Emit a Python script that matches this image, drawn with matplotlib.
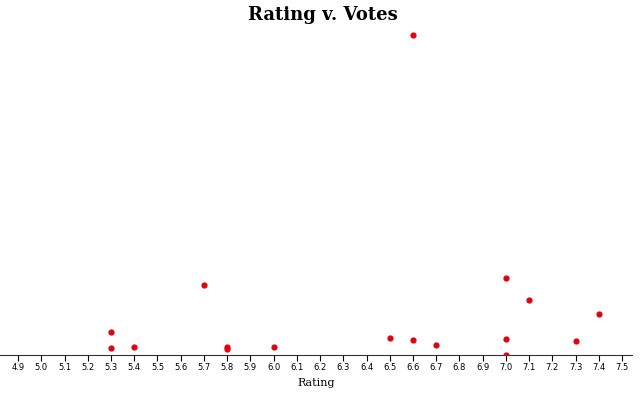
import matplotlib
matplotlib.use("Agg")
import matplotlib.pyplot as plt

ratings = [5.3, 5.3, 5.4, 5.7, 5.8, 5.8, 6.0, 6.5, 6.6, 6.6, 6.7, 7.0, 7.0, 7.0, 7.1, 7.3, 7.4]
votes = [230, 70, 80, 700, 80, 60, 80, 170, 3200, 150, 100, 770, 160, 5, 550, 140, 410]
ticks = [round(4.9 + 0.1 * i, 1) for i in range(27)]

fig = plt.figure(figsize=(6.4, 4.0), dpi=100)
ax = fig.add_axes([0.0, 45 / 400, 632 / 640, 325 / 400])
ax.scatter(ratings, votes, s=12, color="#e3000f", zorder=3)
ax.set_xlim(4.822, 7.543)
ax.set_ylim(0, 3250)
ax.set_xticks(ticks)
ax.set_xticklabels([f"{t:.1f}" for t in ticks], fontsize=6, family="DejaVu Sans")
ax.tick_params(axis="x", length=4, width=0.8, pad=2)
ax.set_yticks([])
for s in ["top", "right", "left"]:
    ax.spines[s].set_visible(False)
ax.spines["bottom"].set_color("#333333")
ax.set_xlabel("Rating", fontsize=8, family="DejaVu Serif", labelpad=4)
fig.text(0.505, 0.962, "Rating v. Votes", ha="center", va="center",
         fontsize=13, fontweight="bold", family="DejaVu Serif")
fig.savefig("out.png", dpi=100)
